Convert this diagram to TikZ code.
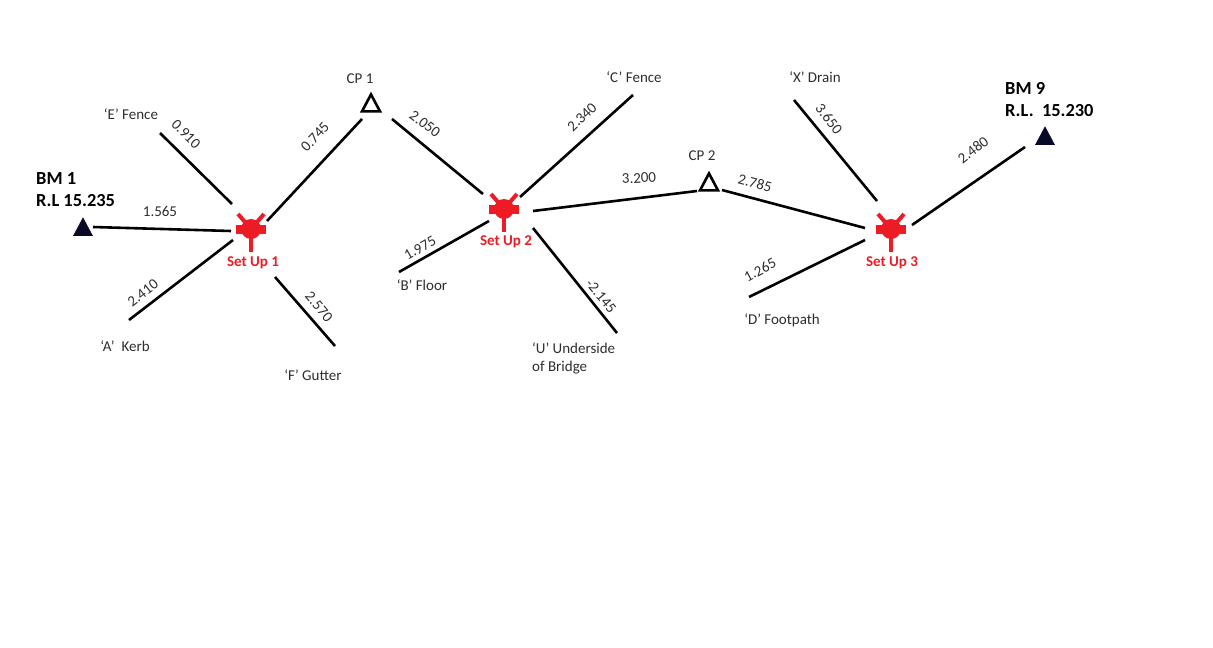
\documentclass[tikz,border=0pt]{standalone}
\usepackage{fontspec}
\setmainfont{Carlito}
\usepackage{tikz}
\usetikzlibrary{shapes.geometric}

\definecolor{setupred}{RGB}{237,28,36}
\definecolor{bmnavy}{RGB}{8,10,40}
\definecolor{txtgrey}{RGB}{45,45,45}

\tikzset{
    sight/.style={line width=2.6pt, black},
    dist/.style={font=\fontsize{15}{16}\selectfont, text=txtgrey, inner sep=0pt},
    place/.style={font=\fontsize{15}{16}\selectfont, text=txtgrey, inner sep=0pt},
    bm/.style={font=\bfseries\fontsize{18.4}{22}\selectfont, text=black, inner sep=0pt, anchor=west, align=left},
    setuplabel/.style={font=\bfseries\fontsize{15}{16}\selectfont, text=setupred, inner sep=0pt},
    setupdot/.style={circle, fill=setupred, minimum size=20pt, inner sep=0pt},
    station/.style={isosceles triangle, isosceles triangle apex angle=56, shape border rotate=90,
        minimum height=17pt, inner sep=0pt, line width=2.6pt, draw=black, fill=white},
    benchmark/.style={isosceles triangle, isosceles triangle apex angle=56, shape border rotate=90,
        minimum height=18pt, inner sep=0pt, draw=bmnavy, fill=bmnavy},
}

\begin{document}
\begin{tikzpicture}[x=1pt, y=-1pt]
    \useasboundingbox (0,0) rectangle (1213,648);

    % instrument set ups
    \foreach \name/\x/\y in {su1/251/229, su2/504/209, su3/891/229} {
        \node (\name) [setupdot] at (\x,\y) {};
        \fill[setupred] (\x-15,\y-4.5) rectangle (\x+15,\y+4.5);
        \draw[line width=4pt, setupred] (\x,\y) -- (\x,\y+23);
        \draw[line width=4pt, setupred] (\x,\y) -- (\x-13,\y-15);
        \draw[line width=4pt, setupred] (\x,\y) -- (\x+13,\y-15);
    }
    \node (su1txt) [setuplabel] at (253,263) {Set Up 1};
    \node (su2txt) [setuplabel] at (506,242) {Set Up 2};
    \node (su3txt) [setuplabel] at (892,263) {Set Up 3};

    % change points and bench marks
    \node (cp1) [station] at (371,106) {};
    \node (cp2) [station] at (709,185) {};
    \node (bm1) [benchmark] at (83,230) {};
    \node (bm9) [benchmark] at (1045,139) {};

    \node (cp1txt) [place] at (360,79) {CP 1};
    \node (cp2txt) [place] at (702,156) {CP 2};
    \node (bm1txt) [bm] at (36,190) {BM 1\\R.L 15.235};
    \node (bm9txt) [bm] at (1005,100) {BM 9\\R.L.~~15.230};

    % line ends
    \coordinate (e1) at (160,133);   \coordinate (e2) at (232,204);
    \coordinate (a1) at (129,320);   \coordinate (a2) at (233,240);
    \coordinate (f1) at (275,277);   \coordinate (f2) at (335,346);
    \coordinate (b1) at (93,227);    \coordinate (b2) at (231,231);
    \coordinate (p1) at (267,221);   \coordinate (p2) at (362,119);
    \coordinate (q1) at (392,119);   \coordinate (q2) at (483,194);
    \coordinate (c1) at (520,197);   \coordinate (c2) at (633,95);
    \coordinate (l1) at (489,221);   \coordinate (l2) at (399,272);
    \coordinate (u1) at (533,228);   \coordinate (u2) at (617,333);
    \coordinate (r1) at (533,211);   \coordinate (r2) at (697,191);
    \coordinate (s1) at (722,190);   \coordinate (s2) at (865,228);
    \coordinate (x1) at (794,100);   \coordinate (x2) at (877,201);
    \coordinate (d1) at (749,297);   \coordinate (d2) at (865,240);
    \coordinate (n1) at (912,225);   \coordinate (n2) at (1025,147);

    \foreach \from/\to in {e1/e2, a1/a2, f1/f2, b1/b2, p1/p2, q1/q2, c1/c2, l1/l2, u1/u2, r1/r2, s1/s2, x1/x2, d1/d2, n1/n2}
        \draw[sight] (\from) -- (\to);

    % readings
    \node (v910) [dist, rotate=-45] at (186,134) {0.910};
    \node (v745) [dist, rotate=47] at (315,137) {0.745};
    \node (v1565) [dist] at (160,211) {1.565};
    \node (v2410) [dist, rotate=38] at (143,293) {2.410};
    \node (v2570) [dist, rotate=-50] at (319,307) {2.570};
    \node (v2050) [dist, rotate=-37] at (425,124) {2.050};
    \node (v2340) [dist, rotate=43] at (582,117) {2.340};
    \node (v1975) [dist, rotate=30] at (420,248) {1.975};
    \node (v2145) [dist, rotate=-50] at (601,296) {-2.145};
    \node (v3200) [dist, rotate=3] at (639,178) {3.200};
    \node (v2785) [dist, rotate=-15] at (755,183) {2.785};
    \node (v3650) [dist, rotate=-52] at (829,119) {3.650};
    \node (v1265) [dist, rotate=28] at (760,270) {1.265};
    \node (v2480) [dist, rotate=38] at (973,150) {2.480};

    % staff points
    \node (pe) [place] at (131,114) {‘E’ Fence};
    \node (pa) [place] at (125,346) {‘A’~~Kerb};
    \node (pf) [place] at (313,375) {‘F’ Gutter};
    \node (pb) [place] at (422,285) {‘B’ Floor};
    \node (pu) [place, align=left, anchor=west] at (532,358) {‘U’ Underside\\[2pt]of Bridge};
    \node (pc) [place] at (634,77) {‘C’ Fence};
    \node (px) [place] at (815,77) {‘X’ Drain};
    \node (pd) [place] at (782,320) {‘D’ Footpath};
\end{tikzpicture}
\end{document}
